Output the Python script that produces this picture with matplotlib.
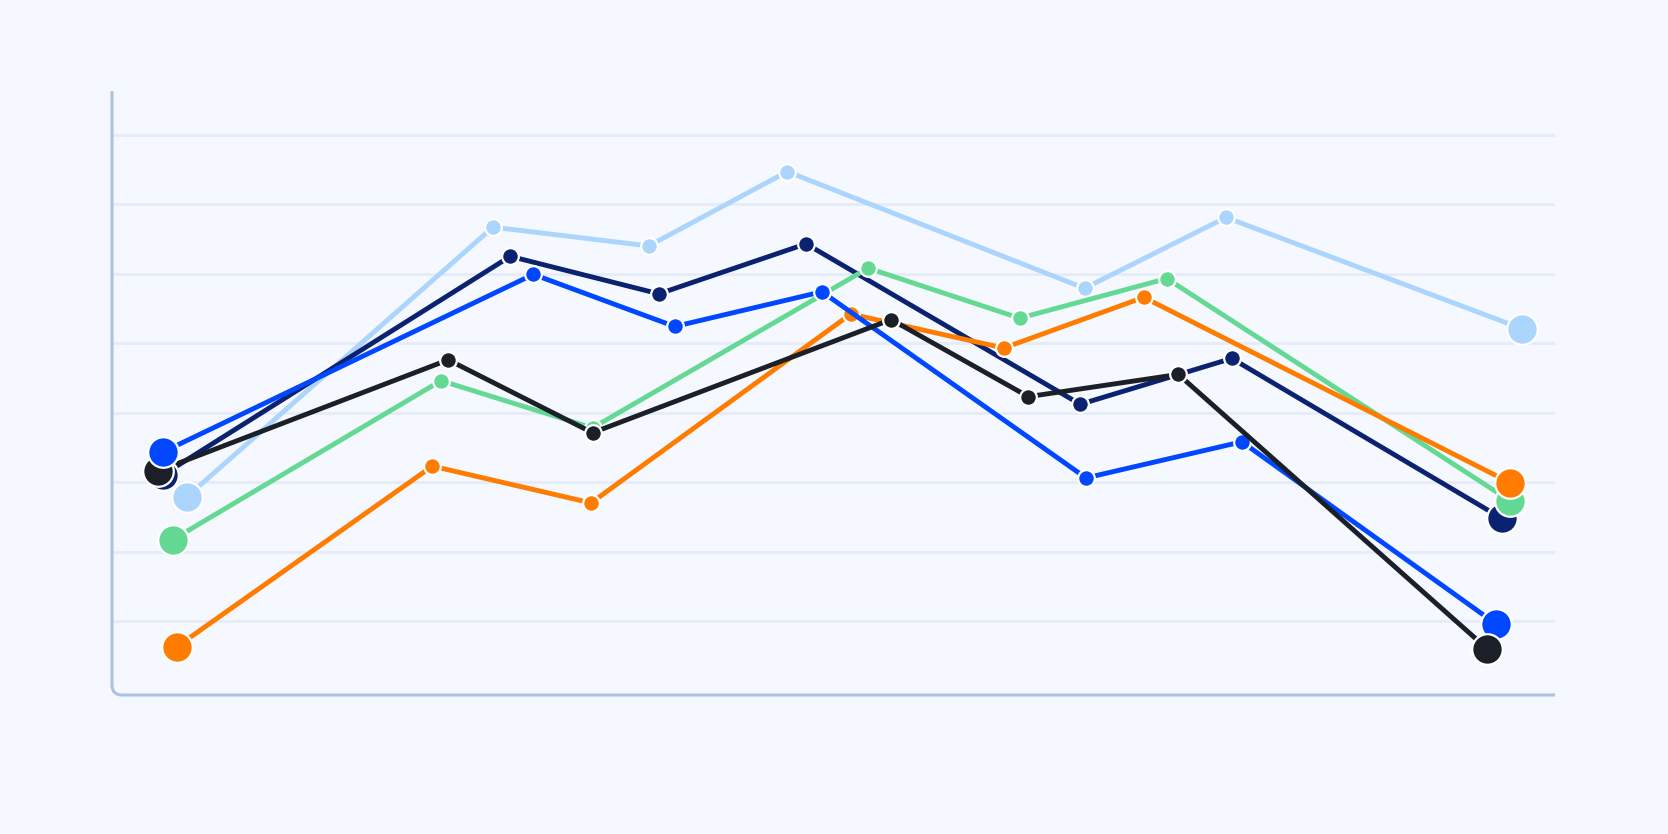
import matplotlib.pyplot as plt
from matplotlib.path import Path
from matplotlib.patches import PathPatch

# six series, each sampled at its own x positions
lightblue_x = [5.2, 26.4, 37.2, 46.8, 67.4, 77.2, 97.7]
lightblue_y = [2.79, 6.67, 6.40, 7.47, 5.79, 6.81, 5.21]

navy_x = [3.5, 27.6, 37.9, 48.1, 67.1, 77.6, 96.3]
navy_y = [3.10, 6.25, 5.71, 6.43, 4.12, 4.78, 2.48]

green_x = [4.2, 22.8, 33.3, 52.4, 62.9, 73.1, 96.9]
green_y = [2.17, 4.46, 3.78, 6.08, 5.36, 5.93, 2.73]

orange_x = [4.5, 22.2, 33.2, 51.2, 61.8, 71.5, 96.9]
orange_y = [0.63, 3.23, 2.70, 5.42, 4.93, 5.66, 2.99]

blue_x = [3.5, 29.2, 39.0, 49.2, 67.5, 78.3, 95.9]
blue_y = [3.43, 5.99, 5.24, 5.74, 3.06, 3.58, 0.96]

dark_x = [3.2, 23.3, 33.3, 54.0, 63.5, 73.9, 95.3]
dark_y = [3.16, 4.76, 3.71, 5.34, 4.23, 4.55, 0.60]

grid_levels = [1, 2, 3, 4, 5, 6, 7, 8]

series = {
    'lightblue': (lightblue_x, lightblue_y, '#acd5fd'),
    'navy': (navy_x, navy_y, '#0b2270'),
    'green': (green_x, green_y, '#64d994'),
    'orange': (orange_x, orange_y, '#ff7c00'),
    'blue': (blue_x, blue_y, '#0047ff'),
    'dark': (dark_x, dark_y, '#1b1f28'),
}

bg = '#f5f8fe'
fig = plt.figure(figsize=(16.68, 8.34), dpi=100, facecolor=bg)
ax = fig.add_axes([112/1668, 139/834, 1443/1668, 604/834])
ax.set_facecolor(bg)
ax.set_xlim(0, 100)
ax.set_ylim(-0.065, 8.63)
for s in ax.spines.values():
    s.set_visible(False)
ax.set_xticks([])
ax.set_yticks([])

for g in grid_levels:
    ax.axhline(g, color='#e5ecf8', lw=2, zorder=0)

# lines + small markers
z = 2
for name in ['lightblue', 'navy', 'green', 'orange', 'blue', 'dark']:
    xs, ys, c = series[name]
    ax.plot(xs, ys, color=c, lw=3.5, zorder=z, solid_capstyle='round')
    ax.plot(xs[1:-1], ys[1:-1], 'o', color=c, ms=12, mec='white', mew=1.6, zorder=z + 0.5)
    z += 1

# big end markers
z = 10
for name in ['lightblue', 'navy', 'green', 'orange', 'dark', 'blue']:
    xs, ys, c = series[name]
    ax.plot(xs[0], ys[0], 'o', color=c, ms=22, mec='white', mew=1.6, zorder=z)
    z += 1
for name in ['lightblue', 'navy', 'green', 'orange', 'blue', 'dark']:
    xs, ys, c = series[name]
    ax.plot(xs[-1], ys[-1], 'o', color=c, ms=22, mec='white', mew=1.6, zorder=z)
    z += 1

# axis frame with rounded bottom-left corner
verts = [(1.12, 7.43), (1.12, 1.49), (1.12, 1.39), (1.22, 1.39), (15.55, 1.39)]
codes = [Path.MOVETO, Path.LINETO, Path.CURVE3, Path.CURVE3, Path.LINETO]
fig.patches.append(PathPatch(Path(verts, codes), fill=False, edgecolor='#a9c3e3',
                             lw=2.2, transform=fig.dpi_scale_trans))

plt.savefig('out.png', facecolor=bg)
